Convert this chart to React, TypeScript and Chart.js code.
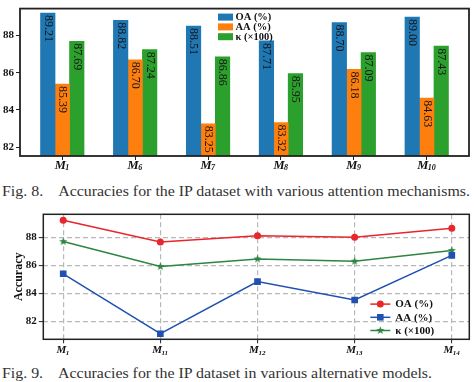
import React, { useEffect, useLayoutEffect, useRef } from 'react';
import { Chart, registerables } from 'chart.js';

Chart.register(...registerables);

// ---------- data ----------
const barCategories = ['M1', 'M6', 'M7', 'M8', 'M9', 'M10'];
const barOA = [89.21, 88.82, 88.51, 87.71, 88.7, 89.0];
const barAA = [85.39, 86.7, 83.25, 83.32, 86.18, 84.63];
const barKappa = [87.69, 87.24, 86.86, 85.95, 87.09, 87.43];
const barYTicks = [82, 84, 86, 88];

const lineCategories = ['M1', 'M11', 'M12', 'M13', 'M14'];
const lineOA = [89.21, 87.66, 88.11, 88.0, 88.64];
const lineAA = [85.39, 81.11, 84.83, 83.52, 86.71];
const lineKappa = [87.69, 85.91, 86.45, 86.29, 87.05];
const lineYTicks = [82, 84, 86, 88];

const seriesLabels = ['OA (%)', 'AA (%)', 'κ (×100)'];
const barColors = ['#1f77b4', '#ff7f0e', '#2ca02c'];
const lineColors = ['#e8262b', '#2050b0', '#2e8540'];

const caption1 = 'Fig. 8.    Accuracies for the IP dataset with various attention mechanisms.';
const caption2 = 'Fig. 9.    Accuracies for the IP dataset in various alternative models.';

const SERIF = '"Liberation Serif", "Times New Roman", serif';

// ---------- helpers ----------
function makeStar(color: string, r: number) {
  const c = document.createElement('canvas');
  const s = Math.ceil(r * 2 + 2);
  c.width = s;
  c.height = s;
  const g = c.getContext('2d')!;
  g.fillStyle = color;
  g.beginPath();
  for (let k = 0; k < 10; k++) {
    const rad = k % 2 === 0 ? r : r * 0.42;
    const a = -Math.PI / 2 + (k * Math.PI) / 5;
    const px = s / 2 + rad * Math.cos(a);
    const py = s / 2 + rad * Math.sin(a);
    if (k === 0) g.moveTo(px, py);
    else g.lineTo(px, py);
  }
  g.closePath();
  g.fill();
  return c;
}

function framePlugin(width: number, color: string) {
  return {
    id: 'frame',
    afterDatasetsDraw(chart: any) {
      const { ctx, chartArea: a } = chart;
      ctx.save();
      ctx.strokeStyle = color;
      ctx.lineWidth = width;
      ctx.strokeRect(a.left, a.top, a.right - a.left, a.bottom - a.top);
      ctx.restore();
    },
  };
}

function subLabelPlugin(labels: string[], size: number, offsetY: number) {
  return {
    id: 'subLabels',
    afterDraw(chart: any) {
      const { ctx, chartArea: a } = chart;
      const xs = chart.scales.x;
      ctx.save();
      ctx.fillStyle = '#111';
      ctx.textAlign = 'left';
      ctx.textBaseline = 'alphabetic';
      const mainFont = `italic bold ${size}px ${SERIF}`;
      const subFont = `italic bold ${Math.round(size * 0.64)}px ${SERIF}`;
      labels.forEach((lab, i) => {
        const main = lab.charAt(0);
        const sub = lab.slice(1);
        ctx.font = mainFont;
        const wm = ctx.measureText(main).width;
        ctx.font = subFont;
        const ws = ctx.measureText(sub).width;
        const x0 = xs.getPixelForValue(i) - (wm + ws) / 2;
        const base = a.bottom + offsetY;
        ctx.font = mainFont;
        ctx.fillText(main, x0, base);
        ctx.font = subFont;
        ctx.fillText(sub, x0 + wm - 0.5, base + size * 0.12);
      });
      ctx.restore();
    },
  };
}

const barValuePlugin = {
  id: 'barValues',
  afterDatasetsDraw(chart: any) {
    const { ctx } = chart;
    ctx.save();
    ctx.font = `12px ${SERIF}`;
    ctx.fillStyle = '#151515';
    ctx.textAlign = 'left';
    ctx.textBaseline = 'middle';
    chart.data.datasets.forEach((ds: any, di: number) => {
      const meta = chart.getDatasetMeta(di);
      meta.data.forEach((el: any, i: number) => {
        const v = ds.data[i].y as number;
        ctx.save();
        ctx.translate(el.x, el.y + 2);
        ctx.rotate(Math.PI / 2);
        ctx.fillText(v.toFixed(2), 0, 0);
        ctx.restore();
      });
    });
    ctx.restore();
  },
};

const barLegendPlugin = {
  id: 'barLegend',
  afterDraw(chart: any) {
    const { ctx, chartArea: a } = chart;
    const cx = (a.left + a.right) / 2;
    ctx.save();
    ctx.font = `bold 10.5px ${SERIF}`;
    ctx.textAlign = 'left';
    ctx.textBaseline = 'middle';
    chart.data.datasets.forEach((ds: any, i: number) => {
      const y = a.top + 8.5 + i * 9.8;
      ctx.fillStyle = ds.backgroundColor;
      ctx.fillRect(cx - 26.5, y - 3.5, 15, 7);
      ctx.fillStyle = '#111';
      ctx.fillText(ds.label, cx - 9, y + 0.5);
    });
    ctx.restore();
  },
};

function drawMarker(ctx: CanvasRenderingContext2D, ds: any, x: number, y: number) {
  const style = ds.pointStyle;
  ctx.fillStyle = ds.borderColor;
  if (style === 'circle') {
    ctx.beginPath();
    ctx.arc(x, y, 3.5, 0, Math.PI * 2);
    ctx.fill();
  } else if (style === 'rect') {
    ctx.fillRect(x - 3.3, y - 3.3, 6.6, 6.6);
  } else if (style && style.width) {
    ctx.drawImage(style, x - style.width / 2, y - style.height / 2);
  }
}

const lineLegendPlugin = {
  id: 'lineLegend',
  afterDraw(chart: any) {
    const { ctx, chartArea: a } = chart;
    ctx.save();
    ctx.font = `bold 11px ${SERIF}`;
    ctx.textAlign = 'left';
    ctx.textBaseline = 'middle';
    const n = chart.data.datasets.length;
    chart.data.datasets.forEach((ds: any, i: number) => {
      const y = a.bottom - 8.8 - (n - 1 - i) * 13.2;
      const mx = a.right - 89;
      ctx.strokeStyle = ds.borderColor;
      ctx.lineWidth = 1.5;
      ctx.beginPath();
      ctx.moveTo(mx - 10, y);
      ctx.lineTo(mx + 10, y);
      ctx.stroke();
      drawMarker(ctx, ds, mx, y);
      ctx.fillStyle = '#111';
      ctx.fillText(ds.label, a.right - 74, y + 0.5);
    });
    ctx.restore();
  },
};

// ---------- components ----------
function BarChart() {
  const ref = useRef<HTMLCanvasElement | null>(null);
  useEffect(() => {
    if (!ref.current) return;
    const series = [barOA, barAA, barKappa];
    const chart = new Chart(ref.current, {
      type: 'bar',
      data: {
        datasets: series.map((vals, si) => ({
          label: seriesLabels[si],
          data: vals.map((v, i) => ({ x: i, y: v })),
          backgroundColor: barColors[si],
          borderWidth: 0,
          barThickness: 14.5,
        })),
      },
      options: {
        responsive: false,
        animation: false,
        layout: { padding: { left: 0, right: 5, top: 1, bottom: 0 } },
        plugins: { legend: { display: false }, tooltip: { enabled: false } },
        scales: {
          x: {
            type: 'linear',
            min: -0.58,
            max: 5.58,
            offset: false,
            grid: { offset: false, drawOnChartArea: false, drawTicks: true, tickLength: 4, tickColor: '#222', tickWidth: 1 },
            border: { display: false },
            ticks: { display: false },
            afterBuildTicks: (s: any) => {
              s.ticks = barCategories.map((_, i) => ({ value: i }));
            },
            afterFit: (s: any) => {
              s.height = 24;
            },
          },
          y: {
            type: 'linear',
            min: 81.52,
            max: 89.45,
            beginAtZero: false,
            grid: { drawOnChartArea: false, drawTicks: true, tickLength: 4, tickColor: '#222', tickWidth: 1 },
            border: { display: false },
            ticks: { color: '#111', padding: 2, font: { family: SERIF, size: 11, weight: 'bold' } },
            afterBuildTicks: (s: any) => {
              s.ticks = barYTicks.map((v) => ({ value: v }));
            },
            afterFit: (s: any) => {
              s.width = 20;
            },
          },
        },
      } as any,
      plugins: [framePlugin(1.8, '#222'), barValuePlugin, barLegendPlugin, subLabelPlugin(barCategories, 12.5, 12.5)],
    });
    return () => chart.destroy();
  }, []);
  return (
    <canvas
      ref={ref}
      width={474}
      height={180}
      style={{ position: 'absolute', left: 0, top: 0, width: 474, height: 180 }}
    />
  );
}

function LineChart() {
  const ref = useRef<HTMLCanvasElement | null>(null);
  useEffect(() => {
    if (!ref.current) return;
    const series = [lineOA, lineAA, lineKappa];
    const styles: any[] = ['circle', 'rect', makeStar(lineColors[2], 4.2)];
    const radii = [3.5, 4.7, 4];
    const chart = new Chart(ref.current, {
      type: 'line',
      data: {
        datasets: series.map((vals, si) => ({
          label: seriesLabels[si],
          data: vals.map((v, i) => ({ x: i, y: v })),
          borderColor: lineColors[si],
          backgroundColor: lineColors[si],
          pointBackgroundColor: lineColors[si],
          pointBorderColor: lineColors[si],
          pointBorderWidth: 0,
          pointStyle: styles[si],
          pointRadius: radii[si],
          borderWidth: 1.5,
          tension: 0,
          fill: false,
        })),
      },
      options: {
        responsive: false,
        animation: false,
        layout: { padding: { left: 8, right: 4, top: 14.3, bottom: 0 } },
        plugins: { legend: { display: false }, tooltip: { enabled: false } },
        scales: {
          x: {
            type: 'linear',
            min: -0.205,
            max: 4.18,
            grid: { color: '#b8b8b8', lineWidth: 1.2, drawTicks: true, tickLength: 4, tickColor: '#222', tickWidth: 1, tickBorderDash: [] },
            border: { display: false, dash: [5, 3] },
            ticks: { display: false },
            afterBuildTicks: (s: any) => {
              s.ticks = lineCategories.map((_, i) => ({ value: i }));
            },
            afterFit: (s: any) => {
              s.height = 22.7;
            },
          },
          y: {
            type: 'linear',
            min: 80.71,
            max: 89.64,
            grid: { color: '#b8b8b8', lineWidth: 1.2, drawTicks: true, tickLength: 4.5, tickColor: '#222', tickWidth: 1, tickBorderDash: [] },
            border: { display: false, dash: [5, 3] },
            title: {
              display: true,
              text: 'Accuracy',
              color: '#111',
              font: { family: SERIF, size: 12, weight: 'bold' },
              padding: { top: 4, bottom: 4 },
            },
            ticks: { color: '#111', padding: 2, font: { family: SERIF, size: 11, weight: 'bold' } },
            afterBuildTicks: (s: any) => {
              s.ticks = lineYTicks.map((v) => ({ value: v }));
            },
            afterFit: (s: any) => {
              s.width = 35.3;
            },
          },
        },
      } as any,
      plugins: [framePlugin(1.5, '#222'), lineLegendPlugin, subLabelPlugin(lineCategories, 11, 14)],
    });
    return () => chart.destroy();
  }, []);
  return (
    <canvas
      ref={ref}
      width={474}
      height={162}
      style={{ position: 'absolute', left: 0, top: 200, width: 474, height: 162 }}
    />
  );
}

function Caption({ text, top, target }: { text: string; top: number; target: number }) {
  const ref = useRef<HTMLSpanElement | null>(null);
  useLayoutEffect(() => {
    const el = ref.current;
    if (!el) return;
    el.style.transform = 'none';
    const w = el.getBoundingClientRect().width;
    if (w > 0) el.style.transform = `scaleX(${target / w})`;
  }, [text, target]);
  return (
    <span
      ref={ref}
      style={{
        position: 'absolute',
        left: 2,
        top,
        fontFamily: SERIF,
        fontSize: 15,
        lineHeight: '16px',
        color: '#333',
        whiteSpace: 'pre',
        transformOrigin: '0 0',
        display: 'inline-block',
      }}
    >
      {text}
    </span>
  );
}

export default function App() {
  return (
    <div
      style={{
        position: 'fixed',
        left: 0,
        top: 0,
        width: 474,
        height: 382,
        background: '#fff',
        overflow: 'hidden',
      }}
    >
      <BarChart />
      <Caption text={caption1} top={183} target={468} />
      <LineChart />
      <Caption text={caption2} top={365} target={430} />
    </div>
  );
}
